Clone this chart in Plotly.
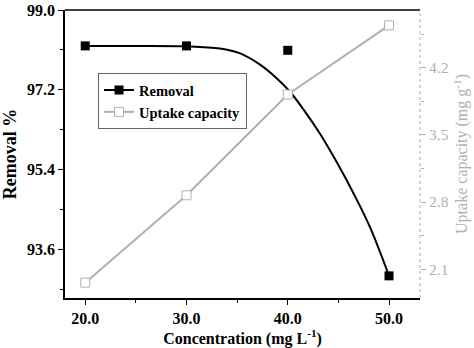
import plotly.graph_objects as go

# Data
conc = [20.0, 30.0, 40.0, 50.0]
removal = [98.19, 98.19, 98.09, 93.0]
uptake = [1.96, 2.87, 3.92, 4.64]

# fitted curve
fit_conc = [20.0, 25.0, 30.0, 33.3, 35.3, 37.3, 38.9, 40.2, 41.6, 43.2, 44.9, 46.5, 48.1, 50.0]
fit_removal = [98.19, 98.19, 98.18, 98.13, 98.02, 97.76, 97.46, 97.16, 96.74, 96.20, 95.54, 94.86, 94.11, 93.00]

left_ticks = [99.0, 97.2, 95.4, 93.6]
right_ticks = [4.2, 3.5, 2.8, 2.1]
x_ticks = [20.0, 30.0, 40.0, 50.0]

GREY = "#b0b0b0"
FONT = "Liberation Serif, Times New Roman, serif"

fig = go.Figure()

# legend-only entry for Removal (line + marker)
fig.add_trace(go.Scatter(
    x=[None], y=[None], mode="lines+markers", name="Removal",
    line=dict(color="black", width=2),
    marker=dict(symbol="square", size=9, color="black"),
))
fig.add_trace(go.Scatter(
    x=fit_conc, y=fit_removal, mode="lines", showlegend=False,
    line=dict(color="black", width=2, shape="spline", smoothing=1.0),
))
fig.add_trace(go.Scatter(
    x=conc, y=removal, mode="markers", showlegend=False,
    marker=dict(symbol="square", size=9, color="black"),
))
fig.add_trace(go.Scatter(
    x=conc, y=uptake, mode="lines+markers", name="Uptake capacity", yaxis="y2",
    line=dict(color=GREY, width=2),
    marker=dict(symbol="square", size=9, color="white", line=dict(color=GREY, width=1)),
))

fig.update_layout(
    width=474, height=348,
    margin=dict(l=65, r=54, t=10, b=50, autoexpand=False),
    paper_bgcolor="white", plot_bgcolor="white",
    font=dict(family=FONT, size=14, color="black"),
    showlegend=True,
    legend=dict(
        x=0.093, y=0.781, xanchor="left", yanchor="top",
        bordercolor="#666666", borderwidth=1, bgcolor="white",
        font=dict(family=FONT, size=14.5, color="black", weight="bold"),
        tracegroupgap=0, itemwidth=30,
    ),
    xaxis=dict(
        range=[18.0, 53.06], tickvals=x_ticks, ticktext=[f"{v:.1f}" for v in x_ticks],
        ticks="outside", ticklen=5, tickwidth=1, tickcolor="black",
        minor=dict(ticks="outside", ticklen=3, tickwidth=1, tickcolor="black", dtick=5, tick0=20),
        showline=True, linecolor="black", linewidth=1.5, mirror=False,
        showgrid=False, zeroline=False, automargin=False,
        tickfont=dict(family=FONT, size=16, color="black", weight="bold"),
        title=dict(text="Concentration (mg L<sup>-1</sup>)", standoff=10,
                   font=dict(family=FONT, size=16, color="black", weight="bold")),
    ),
    yaxis=dict(
        range=[92.5, 99.0], tickvals=left_ticks, ticktext=[f"{v:.1f}" for v in left_ticks],
        ticks="outside", ticklen=5, tickwidth=1, tickcolor="black",
        minor=dict(ticks="outside", ticklen=3, tickwidth=1, tickcolor="black", dtick=0.9, tick0=99.0),
        showline=True, linecolor="black", linewidth=1.5,
        showgrid=False, zeroline=False, automargin=False,
        tickfont=dict(family=FONT, size=16, color="black", weight="bold"),
        title=dict(text="Removal %", standoff=8,
                   font=dict(family=FONT, size=18, color="black", weight="bold")),
    ),
    yaxis2=dict(
        overlaying="y", side="right", anchor="x",
        range=[1.8, 4.8], tickvals=right_ticks, ticktext=[f"{v:.1f}" for v in right_ticks],
        ticks="outside", ticklen=5, tickwidth=1, tickcolor=GREY,
        minor=dict(ticks="outside", ticklen=3, tickwidth=1, tickcolor=GREY, dtick=0.35, tick0=2.1),
        showline=False, showgrid=False, zeroline=False, automargin=False,
        tickfont=dict(family=FONT, size=15.5, color=GREY),
        title=dict(text="Uptake capacity (mg g<sup>-1</sup>)", standoff=8,
                   font=dict(family=FONT, size=16, color=GREY)),
    ),
    shapes=[
        dict(type="line", xref="paper", yref="paper", x0=0, x1=1, y0=1, y1=1,
             line=dict(color="black", width=1.5)),
        dict(type="line", xref="paper", yref="paper", x0=1, x1=1, y0=0, y1=1,
             line=dict(color=GREY, width=1, dash="3px,3px")),
    ],
)

fig.write_html("out.html")
